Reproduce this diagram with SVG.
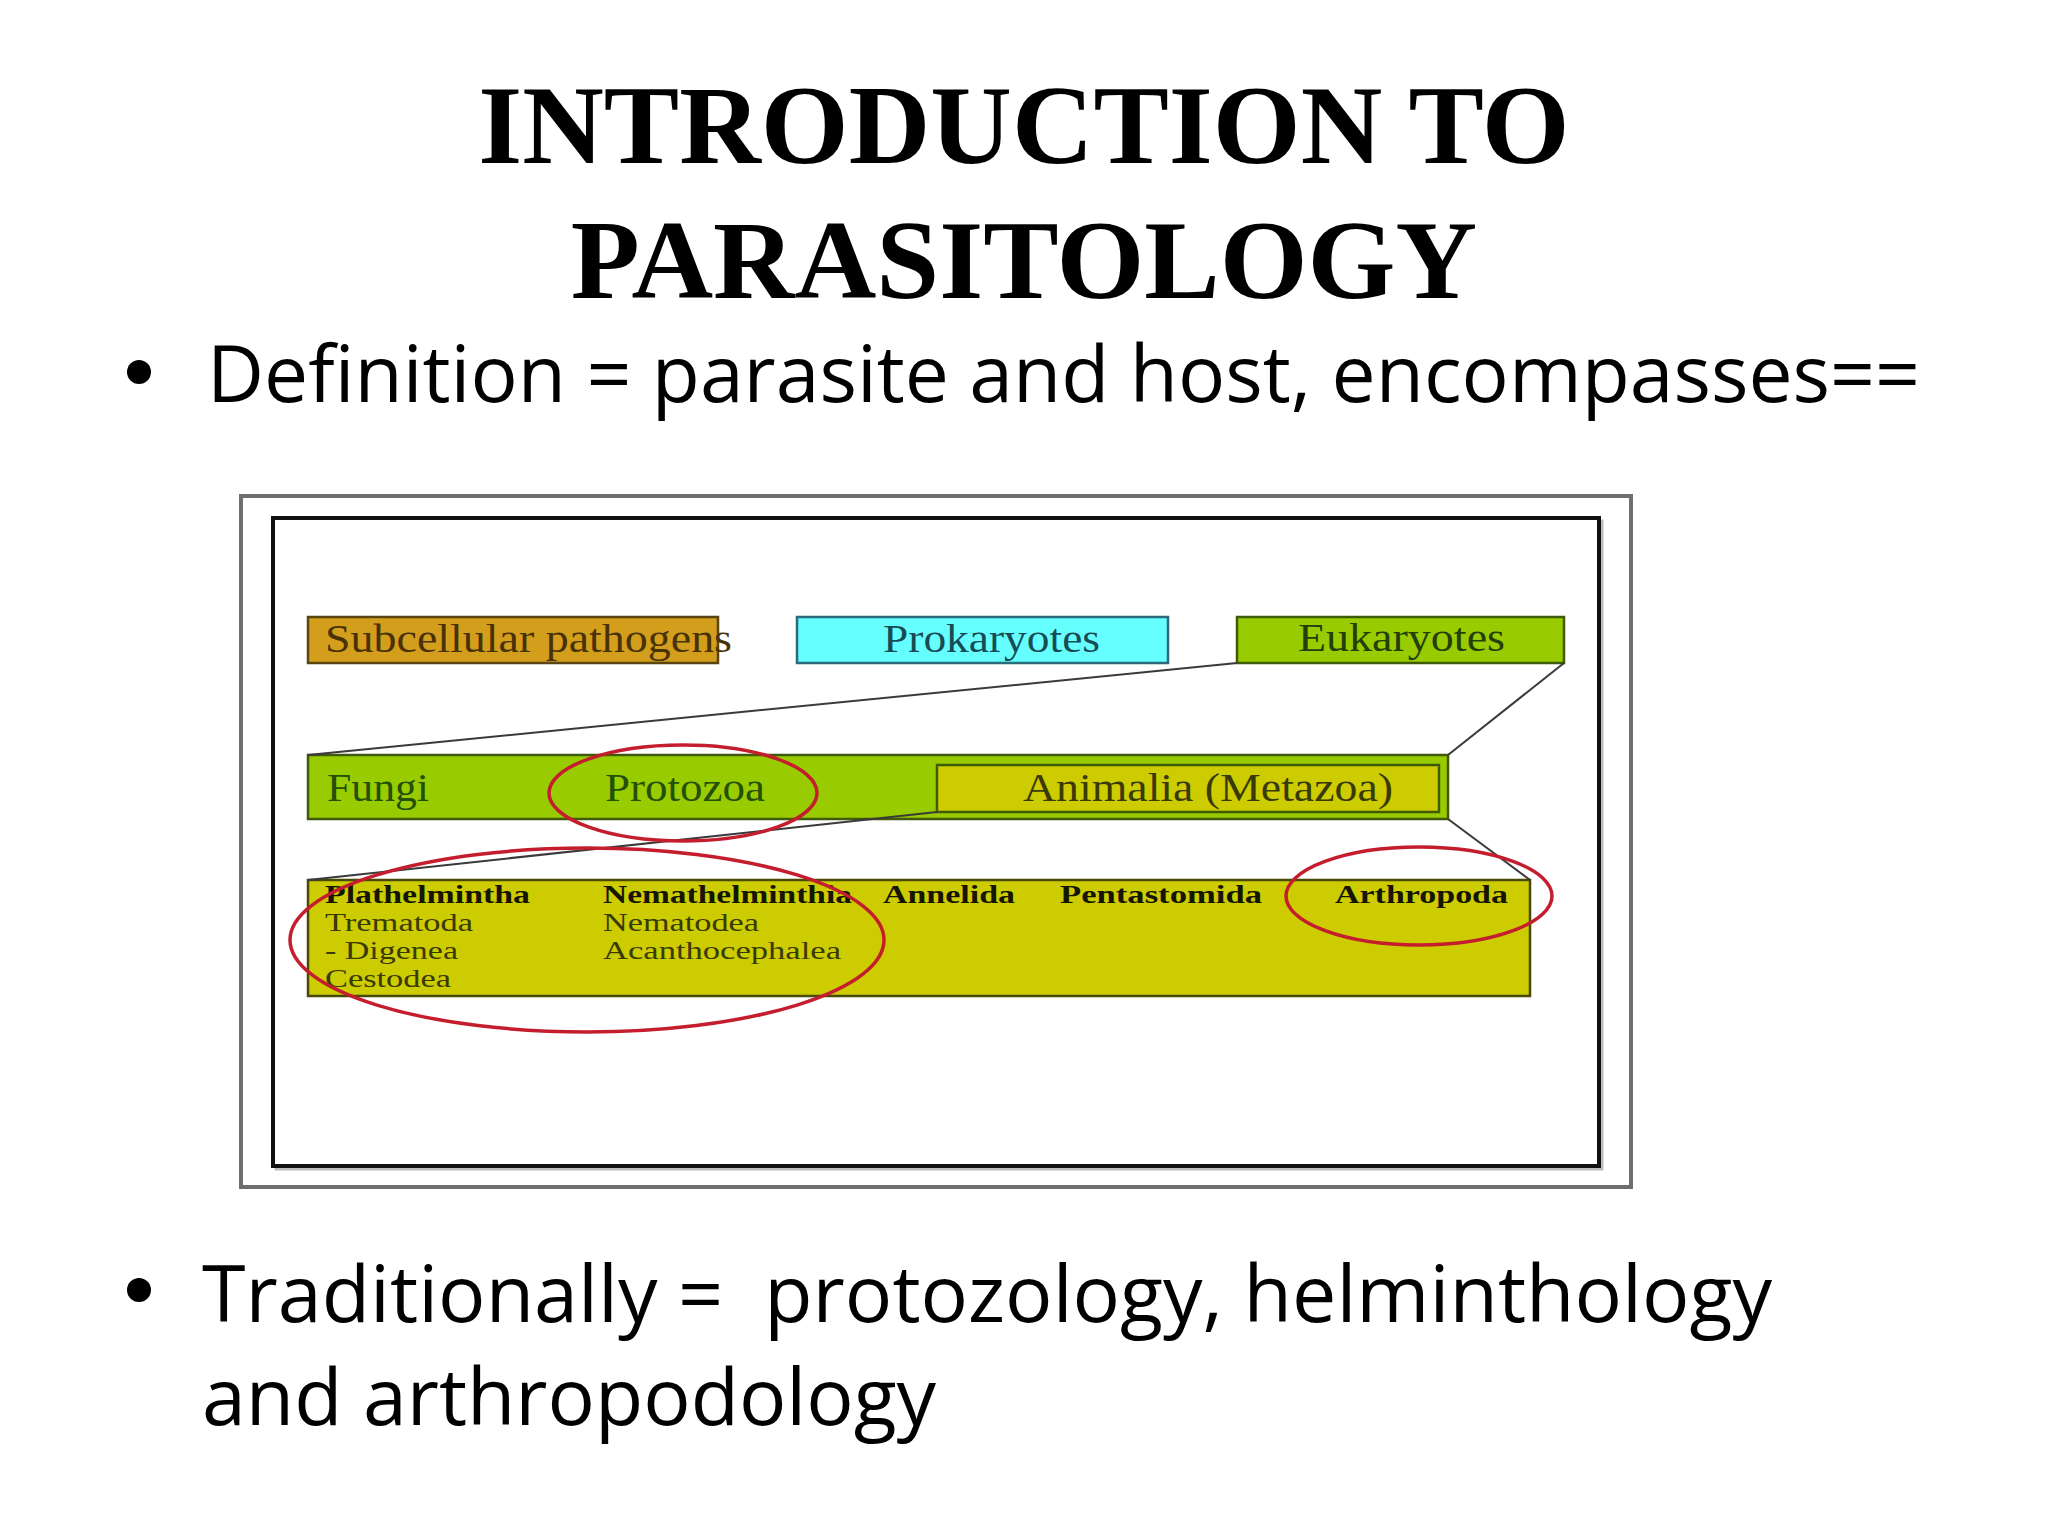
<svg xmlns="http://www.w3.org/2000/svg" width="2048" height="1536" viewBox="0 0 2048 1536">
<style>
.title{font-family:"Liberation Serif","Times New Roman",serif;font-weight:bold;font-size:113px;fill:#000;text-anchor:middle}
.body{font-family:"Open Sans","Noto Sans","Liberation Sans",sans-serif;font-size:78px;fill:#000}
.lbl{font-family:"Liberation Serif","Times New Roman",serif;font-size:40px}
.sm{font-family:"Liberation Serif","Times New Roman",serif;font-size:25px;fill:#3a3a05}
.smb{font-family:"Liberation Serif","Times New Roman",serif;font-size:25px;font-weight:bold;fill:#151500}
.box{stroke-width:2.5}
.conn{stroke:#3a3a3a;stroke-width:2;fill:none}
.ring{fill:none;stroke:#c41e2e;stroke-width:3.5}
</style>
<rect width="2048" height="1536" fill="#fff"/>
<g id="title">
<text class="title" x="1024" y="163">INTRODUCTION TO</text>
<text class="title" x="1024" y="298">PARASITOLOGY</text>
</g>
<g id="bullet1">
<circle cx="139" cy="372" r="12" fill="#000"/>
<text class="body" x="207" y="402" textLength="1713" lengthAdjust="spacingAndGlyphs">Definition = parasite and host, encompasses==</text>
</g>
<g id="figure-frame">
<rect x="241" y="496" width="1390" height="691" fill="#fff" stroke="#6e6e6e" stroke-width="4"/>
<rect x="276" y="521" width="1326" height="648" fill="none" stroke="#bdbdbd" stroke-width="3"/>
<rect x="273" y="518" width="1326" height="648" fill="#fff" stroke="#111" stroke-width="4"/>
</g>
<g id="subcellular">
<rect class="box" x="308" y="617" width="410" height="46" fill="#d39e1c" stroke="#5a4410"/>
<text class="lbl" x="325" y="652" fill="#4a3208" textLength="407" lengthAdjust="spacingAndGlyphs">Subcellular pathogens</text>
</g>
<g id="prokaryotes">
<rect class="box" x="797" y="617" width="371" height="46" fill="#66ffff" stroke="#2a6a7a"/>
<text class="lbl" x="883" y="652" fill="#174c55" textLength="217" lengthAdjust="spacingAndGlyphs">Prokaryotes</text>
</g>
<g id="eukaryotes">
<rect class="box" x="1237" y="617" width="327" height="46" fill="#99cc00" stroke="#3f5a08"/>
<text class="lbl" x="1298" y="651" fill="#24400a" textLength="207" lengthAdjust="spacingAndGlyphs">Eukaryotes</text>
</g>
<g id="eukaryote-groups">
<rect class="box" x="308" y="755" width="1140" height="64" fill="#99cc00" stroke="#3f5a08"/>
<text class="lbl" x="327" y="801" fill="#24500a" textLength="102" lengthAdjust="spacingAndGlyphs">Fungi</text>
<text class="lbl" x="605" y="801" fill="#24500a" textLength="160" lengthAdjust="spacingAndGlyphs">Protozoa</text>
</g>
<g id="animalia">
<rect class="box" x="937" y="765" width="502" height="47" fill="#cccc00" stroke="#3f5a08"/>
<text class="lbl" x="1023" y="801" fill="#3a3a08" textLength="370" lengthAdjust="spacingAndGlyphs">Animalia (Metazoa)</text>
</g>
<g id="animal-phyla">
<rect class="box" x="308" y="880" width="1222" height="116" fill="#cccc00" stroke="#4a4a08"/>
<text class="smb" x="325" y="903" textLength="205" lengthAdjust="spacingAndGlyphs">Plathelmintha</text>
<text class="sm" x="325" y="931" textLength="148" lengthAdjust="spacingAndGlyphs">Trematoda</text>
<text class="sm" x="325" y="959" textLength="133" lengthAdjust="spacingAndGlyphs">- Digenea</text>
<text class="sm" x="325" y="987" textLength="126" lengthAdjust="spacingAndGlyphs">Cestodea</text>
<text class="smb" x="603" y="903" textLength="249" lengthAdjust="spacingAndGlyphs">Nemathelminthia</text>
<text class="sm" x="603" y="931" textLength="156" lengthAdjust="spacingAndGlyphs">Nematodea</text>
<text class="sm" x="603" y="959" textLength="238" lengthAdjust="spacingAndGlyphs">Acanthocephalea</text>
<text class="smb" x="883" y="903" textLength="132" lengthAdjust="spacingAndGlyphs">Annelida</text>
<text class="smb" x="1060" y="903" textLength="202" lengthAdjust="spacingAndGlyphs">Pentastomida</text>
<text class="smb" x="1335" y="903" textLength="173" lengthAdjust="spacingAndGlyphs">Arthropoda</text>
</g>
<g id="connectors">
<line class="conn" x1="1237" y1="663" x2="308" y2="755"/>
<line class="conn" x1="1564" y1="663" x2="1448" y2="755"/>
<line class="conn" x1="937" y1="812" x2="308" y2="880"/>
<line class="conn" x1="1448" y1="819" x2="1530" y2="880"/>
</g>
<g id="highlights">
<ellipse class="ring" cx="683" cy="793" rx="134" ry="48"/>
<ellipse class="ring" cx="587" cy="940" rx="297" ry="92"/>
<ellipse class="ring" cx="1419" cy="896" rx="133" ry="49"/>
</g>
<g id="bullet2">
<circle cx="139" cy="1290" r="12" fill="#000"/>
<text class="body" x="202" y="1322" xml:space="preserve" textLength="1570" lengthAdjust="spacingAndGlyphs">Traditionally =  protozology, helminthology</text>
<text class="body" x="202" y="1425" textLength="734" lengthAdjust="spacingAndGlyphs">and arthropodology</text>
</g>
</svg>
